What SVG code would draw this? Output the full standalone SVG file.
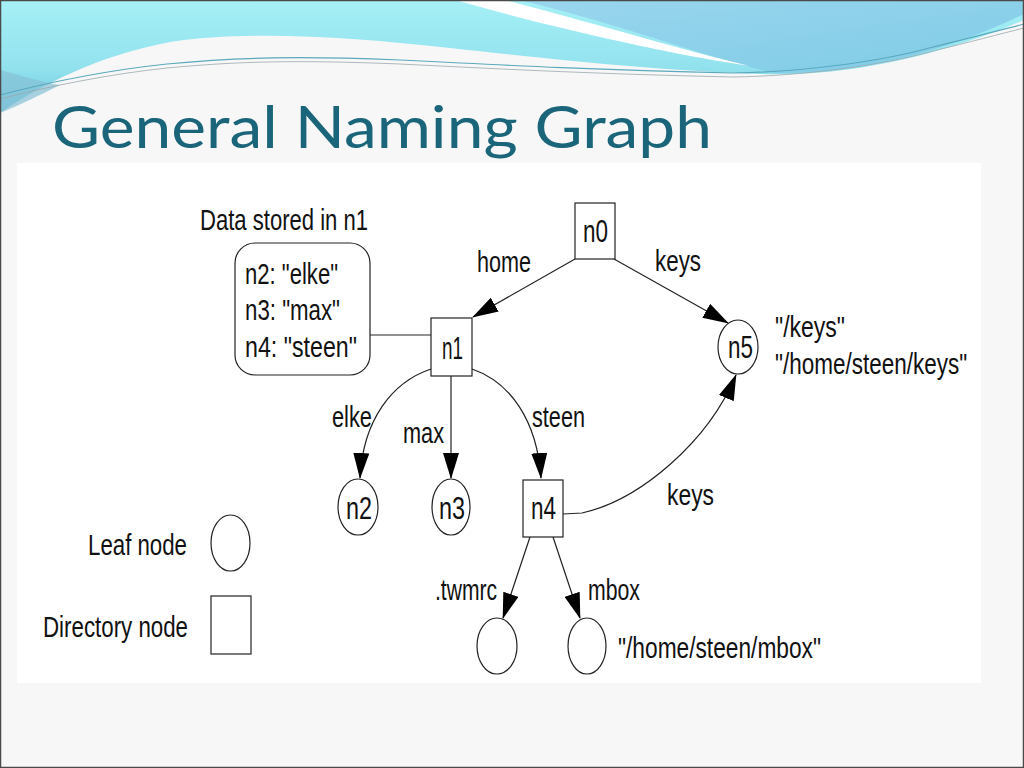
<svg xmlns="http://www.w3.org/2000/svg" width="1024" height="768" viewBox="0 0 1024 768">
  <defs>
    <linearGradient id="cyan" x1="0" y1="0" x2="0" y2="1">
      <stop offset="0" stop-color="#a6f0f6"/>
      <stop offset="0.6" stop-color="#92e2ee"/>
      <stop offset="1" stop-color="#6fc6dc"/>
    </linearGradient>
    <linearGradient id="blue" x1="0" y1="0" x2="1" y2="1">
      <stop offset="0" stop-color="#9ad6ee"/>
      <stop offset="1" stop-color="#7fcbe6"/>
    </linearGradient>
    <marker id="ah" viewBox="0 0 26 16" refX="25" refY="8" markerWidth="26" markerHeight="16" orient="auto" markerUnits="userSpaceOnUse">
      <path d="M0,0 L26,8 L0,16 Z" fill="#000"/>
    </marker>
  </defs>
  <style>
    .lbl { font-family: "Liberation Sans", Arial, sans-serif; font-size: 30px; fill: #111; }
    .nd { font-size: 31px; }
    .shape { fill: #fff; stroke: #222; stroke-width: 1.2; }
    .edge { fill: none; stroke: #222; stroke-width: 1.2; }
    .arrow { marker-end: url(#ah); }
  </style>

  <!-- slide background and decoration -->
  <rect x="0" y="0" width="1024" height="768" fill="#f7f7f7"/>
  <path d="M0,0 H1024 V20 C960,48 860,78 760,74 C650,70 560,60 450,48 C350,37 250,30 170,42 C100,55 40,85 0,113 Z" fill="url(#cyan)"/>
  <path d="M0,70 C20,75 40,82 60,85 C40,95 20,105 0,113 Z" fill="#86c0d6" opacity="0.7"/>
  <path d="M520,0 H1024 V14 C960,45 870,75 775,73 C720,62 640,30 520,0 Z" fill="url(#blue)"/>
  <path d="M455,0 L505,0 C600,25 690,52 750,66 C680,56 560,30 455,0 Z" fill="#ffffff"/>
  <path d="M0,95 C50,82 110,70 167,64 C240,57 300,56 400,60 C520,66 600,70 733,73 C800,72 880,62 933,47 C970,38 1000,30 1024,24" fill="none" stroke="#5aa9bc" stroke-width="1.2"/>
  <path d="M0,99 C50,86 110,74 167,68 C240,61 300,60 400,64 C520,70 600,74 733,77 C800,76 880,66 933,51 C970,42 1000,34 1024,28" fill="none" stroke="#9aa8ad" stroke-width="0.8"/>
  <rect x="0.5" y="0.5" width="1023" height="767" fill="none" stroke="#4a4a4a" stroke-width="1.5"/>

  <text x="52" y="148" font-family="Lato, 'Open Sans', sans-serif" font-size="58" fill="#1a6579" textLength="660" lengthAdjust="spacingAndGlyphs">General Naming Graph</text>

  <!-- diagram panel -->
  <rect x="17" y="163" width="964" height="520" fill="#ffffff"/>

  <!-- connectors -->
  <g id="connectors">
    <path class="edge arrow" d="M575,259 L473,317"/>
    <path class="edge arrow" d="M614,259 L728,323"/>
    <path class="edge" d="M370,335 L431,335"/>
    <path class="edge arrow" d="M431,369 C392,382 363,420 360,478"/>
    <path class="edge arrow" d="M451,376 L451,478"/>
    <path class="edge arrow" d="M472,369 C510,382 537,420 541,478"/>
    <path class="edge arrow" d="M563,514 L582,513 C640,500 708,442 736,375"/>
    <path class="edge arrow" d="M530,537 L503,618"/>
    <path class="edge arrow" d="M553,537 L580,618"/>
  </g>

  <!-- edge labels -->
  <g id="edge-labels">
    <text class="lbl" x="477" y="272" textLength="54" lengthAdjust="spacingAndGlyphs">home</text>
    <text class="lbl" x="655" y="271" textLength="46" lengthAdjust="spacingAndGlyphs">keys</text>
    <text class="lbl" x="332" y="427" textLength="40" lengthAdjust="spacingAndGlyphs">elke</text>
    <text class="lbl" x="403" y="443" textLength="41" lengthAdjust="spacingAndGlyphs">max</text>
    <text class="lbl" x="532" y="427" textLength="53" lengthAdjust="spacingAndGlyphs">steen</text>
    <text class="lbl" x="667" y="505" textLength="47" lengthAdjust="spacingAndGlyphs">keys</text>
    <text class="lbl" x="435" y="600" textLength="62" lengthAdjust="spacingAndGlyphs">.twmrc</text>
    <text class="lbl" x="588" y="600" textLength="52" lengthAdjust="spacingAndGlyphs">mbox</text>
  </g>

  <!-- nodes -->
  <g id="data-box">
    <text class="lbl" x="200" y="230" textLength="168" lengthAdjust="spacingAndGlyphs">Data stored in n1</text>
    <rect class="shape" x="235" y="243" width="135" height="132" rx="20" ry="20"/>
    <text class="lbl" x="245" y="284" textLength="93" lengthAdjust="spacingAndGlyphs">n2: "elke"</text>
    <text class="lbl" x="245" y="320" textLength="95" lengthAdjust="spacingAndGlyphs">n3: "max"</text>
    <text class="lbl" x="245" y="357" textLength="112" lengthAdjust="spacingAndGlyphs">n4: "steen"</text>
  </g>
  <g id="n0">
    <rect class="shape" x="575" y="203" width="40" height="56"/>
    <text class="lbl nd" x="583" y="242" textLength="25" lengthAdjust="spacingAndGlyphs">n0</text>
  </g>
  <g id="n1">
    <rect class="shape" x="431" y="318" width="41" height="58"/>
    <text class="lbl nd" x="442" y="359" textLength="21" lengthAdjust="spacingAndGlyphs">n1</text>
  </g>
  <g id="n5">
    <ellipse class="shape" cx="738" cy="347" rx="20" ry="27"/>
    <text class="lbl nd" x="728" y="358" textLength="25" lengthAdjust="spacingAndGlyphs">n5</text>
    <text class="lbl" x="775" y="337" textLength="70" lengthAdjust="spacingAndGlyphs">"/keys"</text>
    <text class="lbl" transform="translate(775,374) scale(0.75,1)" x="0" y="0">"/home/steen/keys"</text>
  </g>
  <g id="n2">
    <ellipse class="shape" cx="358" cy="507" rx="20" ry="28"/>
    <text class="lbl nd" x="346" y="519" textLength="26" lengthAdjust="spacingAndGlyphs">n2</text>
  </g>
  <g id="n3">
    <ellipse class="shape" cx="451" cy="507" rx="19" ry="28"/>
    <text class="lbl nd" x="439" y="519" textLength="26" lengthAdjust="spacingAndGlyphs">n3</text>
  </g>
  <g id="n4">
    <rect class="shape" x="523" y="480" width="40" height="57"/>
    <text class="lbl nd" x="531" y="519" textLength="25" lengthAdjust="spacingAndGlyphs">n4</text>
  </g>
  <g id="twmrc">
    <ellipse class="shape" cx="497" cy="646" rx="20" ry="28"/>
  </g>
  <g id="mbox">
    <ellipse class="shape" cx="587" cy="646" rx="19" ry="28"/>
    <text class="lbl" x="618" y="658" textLength="203" lengthAdjust="spacingAndGlyphs">"/home/steen/mbox"</text>
  </g>

  <!-- legend -->
  <g id="legend-leaf">
    <text class="lbl" x="88" y="555" textLength="99" lengthAdjust="spacingAndGlyphs">Leaf node</text>
    <ellipse class="shape" cx="230.5" cy="543" rx="19.5" ry="28"/>
  </g>
  <g id="legend-directory">
    <text class="lbl" x="43" y="637" textLength="145" lengthAdjust="spacingAndGlyphs">Directory node</text>
    <rect class="shape" x="211" y="596" width="40" height="58"/>
  </g>
</svg>
